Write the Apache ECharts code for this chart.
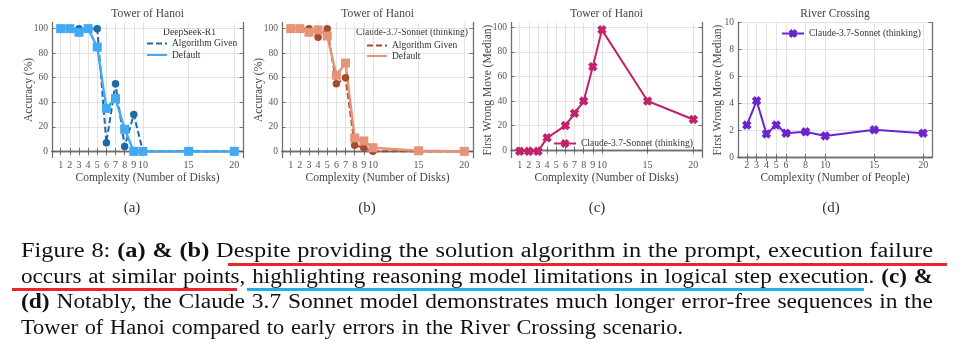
<!DOCTYPE html>
<html>
<head>
<meta charset="utf-8">
<script src="https://cdn.jsdelivr.net/npm/echarts@6/dist/echarts.min.js"></script>
<style>
html,body{margin:0;padding:0;background:#fff;}
#c{width:967px;height:355px;}
</style>
</head>
<body>
<div id="c"></div>
<script>
// ---------- data ----------
const disks = [1, 2, 3, 4, 5, 6, 7, 8, 9, 10, 15, 20];
const deepseekAlgo = [100, 100, 100, 100, 100, 7, 55, 4, 30, 0, 0, 0];
const deepseekDefault = [100, 100, 97, 100, 85, 35, 43, 18, 0, 0, 0, 0];
const claudeAlgo = [100, 100, 100, 93, 100, 55, 60, 5, 3, 0, 0, 0];
const claudeDefault = [100, 100, 97, 99, 94, 62, 72, 11, 8.5, 3, 0.5, 0];
const disksC = [1, 2, 3, 4, 6, 7, 8, 9, 10, 15, 20];
const firstWrongHanoi = [-1, -1, -1, 10, 20, 30, 40, 68, 98, 40, 25];
const people = [2, 3, 4, 5, 6, 8, 10, 15, 20];
const firstWrongRiver = [2.4, 4.2, 1.75, 2.4, 1.8, 1.9, 1.6, 2.05, 1.8];

const xTicksDisks = [1, 2, 3, 4, 5, 6, 7, 8, 9, 10, 15, 20];
const xTicksPeople = [2, 3, 4, 5, 6, 8, 10, 15, 20];
const yTicksPct = [0, 20, 40, 60, 80, 100];
const yTicksRiver = [0, 2, 4, 6, 8, 10];

const panelTitles = ['Tower of Hanoi', 'Tower of Hanoi', 'Tower of Hanoi', 'River Crossing'];
const subLabels = ['(a)', '(b)', '(c)', '(d)'];

// ---------- styling ----------
const SERIF = '"Liberation Serif", "DejaVu Serif", serif';
const FRAME = '#707070';
const GRIDC = '#dcdcdc';
const C_DS_ALGO = '#1c6aa6';
const C_DS_DEF = '#42aaf2';
const C_CL_ALGO = '#a84a30';
const C_CL_DEF = '#e79378';
const C_C = '#c2226b';
const C_D = '#6a26cc';
const XMARK = 'path://M0,3 L3,0 L5,2 L7,0 L10,3 L8,5 L10,7 L7,10 L5,8 L3,10 L0,7 L2,5 Z';

const grids = [
  {left: 52, top: 22.5, width: 191, height: 135},
  {left: 282, top: 22.5, width: 191, height: 135},
  {left: 511, top: 22.5, width: 191, height: 135},
  {left: 738, top: 22.5, width: 194, height: 135}
];
const subLabelX = [132, 367, 597, 831];

const xAxes = [], yAxes = [];
function addAxes(gi, xmin, xmax, xticks, ymin, ymax, yticks, xname, yname, yGap) {
  const tick = {show: true, inside: true, length: 3.5, lineStyle: {color: '#555', width: 0.8}};
  const line = {show: true, lineStyle: {color: FRAME, width: 1.3}};
  xAxes.push({
    type: 'value', gridIndex: gi, min: xmin, max: xmax, position: 'bottom',
    axisLine: line, axisTick: Object.assign({customValues: xticks}, tick),
    axisLabel: {customValues: xticks, margin: 3, fontFamily: SERIF, fontSize: 10, color: '#555'},
    splitLine: {show: true, lineStyle: {color: GRIDC, width: 0.8}},
    name: xname, nameLocation: 'middle', nameGap: 14, nameMoveOverlap: false,
    nameTextStyle: {fontFamily: SERIF, fontSize: 11.5, color: '#444'}
  });
  xAxes.push({
    type: 'value', gridIndex: gi, min: xmin, max: xmax, position: 'top',
    axisLine: line, axisTick: Object.assign({customValues: xticks}, tick),
    axisLabel: {show: false}, splitLine: {show: false}
  });
  yAxes.push({
    type: 'value', gridIndex: gi, min: ymin, max: ymax, position: 'left',
    axisLine: line, axisTick: Object.assign({customValues: yticks}, tick),
    axisLabel: {customValues: yticks, margin: 4, fontFamily: SERIF, fontSize: 9.5, color: '#555'},
    splitLine: {show: true, lineStyle: {color: GRIDC, width: 0.8}},
    name: yname, nameLocation: 'middle', nameGap: yGap, nameRotate: 90, nameMoveOverlap: false,
    nameTextStyle: {fontFamily: SERIF, fontSize: 11.5, color: '#444'}
  });
  yAxes.push({
    type: 'value', gridIndex: gi, min: ymin, max: ymax, position: 'right',
    axisLine: line, axisTick: Object.assign({customValues: yticks}, tick),
    axisLabel: {show: false}, splitLine: {show: false}
  });
}
addAxes(0, 0.05, 20.95, xTicksDisks, -5, 105, yTicksPct, 'Complexity (Number of Disks)', 'Accuracy (%)', 17);
addAxes(1, 0.05, 20.95, xTicksDisks, -5, 105, yTicksPct, 'Complexity (Number of Disks)', 'Accuracy (%)', 17);
addAxes(2, 0.05, 20.95, xTicksDisks, -6, 104, yTicksPct, 'Complexity (Number of Disks)', 'First Wrong Move (Median)', 17.2);
addAxes(3, 1.1, 20.9, xTicksPeople, 0, 10, yTicksRiver, 'Complexity (Number of People)', 'First Wrong Move (Median)', 14.2);

function pairs(xs, ys) { return xs.map((x, i) => [x, ys[i]]); }
function lineSeries(name, gi, xs, ys, color, dashed, symbol, size, width) {
  return {
    name: name, type: 'line', xAxisIndex: gi * 2, yAxisIndex: gi * 2,
    data: pairs(xs, ys), symbol: symbol, symbolSize: size, showSymbol: true,
    lineStyle: {color: color, width: width, type: dashed ? [6, 3] : 'solid'},
    itemStyle: {color: color}, animation: false, emphasis: {disabled: true}
  };
}

const series = [
  lineSeries('Algorithm Given', 0, disks, deepseekAlgo, C_DS_ALGO, true, 'circle', 7.5, 2),
  lineSeries('Default', 0, disks, deepseekDefault, C_DS_DEF, false, 'rect', 9, 2.4),
  lineSeries('Algorithm Given ', 1, disks, claudeAlgo, C_CL_ALGO, true, 'circle', 7.5, 2),
  lineSeries('Default ', 1, disks, claudeDefault, C_CL_DEF, false, 'rect', 9, 2.4),
  lineSeries('Claude-3.7-Sonnet (thinking)', 2, disksC, firstWrongHanoi, C_C, false, XMARK, 9.5, 2),
  lineSeries('Claude-3.7-Sonnet (thinking) ', 3, people, firstWrongRiver, C_D, false, XMARK, 9.5, 2)
];

const legTxt = {fontFamily: SERIF, fontSize: 9.5, color: '#333'};
const legends = [
  {data: ['Algorithm Given', 'Default'], left: 146, top: 38.5, orient: 'vertical', itemGap: 1.5,
   itemWidth: 20, itemHeight: 12, itemStyle: {opacity: 0}, textStyle: legTxt, selectedMode: false, padding: 0},
  {data: ['Algorithm Given ', 'Default '], left: 366, top: 40.5, orient: 'vertical', itemGap: 0.5,
   itemWidth: 20, itemHeight: 12, itemStyle: {opacity: 0}, textStyle: legTxt, selectedMode: false, padding: 0},
  {data: ['Claude-3.7-Sonnet (thinking)'], left: 553, top: 138.5, itemWidth: 22, itemHeight: 11,
   textStyle: legTxt, selectedMode: false, padding: 0},
  {data: ['Claude-3.7-Sonnet (thinking) '], left: 781, top: 28.5, itemWidth: 22, itemHeight: 11,
   textStyle: legTxt, selectedMode: false, padding: 0}
];

// ---------- graphic texts ----------
const graphics = [];
grids.forEach((g, i) => {
  graphics.push({type: 'text', x: g.left + g.width / 2, y: 13.5, silent: true,
    style: {text: panelTitles[i], fontFamily: SERIF, fontSize: 11.5, fill: '#444', textAlign: 'center', textVerticalAlign: 'middle'}});
  graphics.push({type: 'text', x: subLabelX[i], y: 208, silent: true,
    style: {text: subLabels[i], fontFamily: SERIF, fontSize: 15, fill: '#333', textAlign: 'center', textVerticalAlign: 'middle'}});
});
graphics.push({type: 'text', x: 189.5, y: 32, silent: true,
  style: {text: 'DeepSeek-R1', fontFamily: SERIF, fontSize: 9.5, fill: '#333', textAlign: 'center', textVerticalAlign: 'middle'}});
graphics.push({type: 'text', x: 412, y: 32, silent: true,
  style: {text: 'Claude-3.7-Sonnet (thinking)', fontFamily: SERIF, fontSize: 9.5, fill: '#333', textAlign: 'center', textVerticalAlign: 'middle'}});

// caption
const capLines = [
  [['Figure', 0], ['8:', 0], ['(a)', 1], ['&', 1], ['(b)', 1], ['Despite', 0], ['providing', 0], ['the', 0], ['solution', 0], ['algorithm', 0], ['in', 0], ['the', 0], ['prompt,', 0], ['execution', 0], ['failure', 0]],
  [['occurs', 0], ['at', 0], ['similar', 0], ['points,', 0], ['highlighting', 0], ['reasoning', 0], ['model', 0], ['limitations', 0], ['in', 0], ['logical', 0], ['step', 0], ['execution.', 0], ['(c)', 1], ['&', 1]],
  [['(d)', 1], ['Notably,', 0], ['the', 0], ['Claude', 0], ['3.7', 0], ['Sonnet', 0], ['model', 0], ['demonstrates', 0], ['much', 0], ['longer', 0], ['error-free', 0], ['sequences', 0], ['in', 0], ['the', 0]],
  [['Tower', 0], ['of', 0], ['Hanoi', 0], ['compared', 0], ['to', 0], ['early', 0], ['errors', 0], ['in', 0], ['the', 0], ['River', 0], ['Crossing', 0], ['scenario.', 0]]
];
const capSize = 20.5;
const capLeft = 21, capRight = 933, line4Right = 683;
const capBottom = [262.5, 288, 313.5, 339];
const normGap = 6.8;
const cv = document.createElement('canvas').getContext('2d');
function wWidth(t, b) { cv.font = (b ? 'bold ' : '') + capSize + 'px "Liberation Serif"'; return cv.measureText(t).width; }
capLines.forEach((ln, li) => {
  const nat = ln.map(w => wWidth(w[0], w[1]));
  const natTot = nat.reduce((a, b) => a + b, 0);
  const right = li < 3 ? capRight : line4Right;
  const sx = (right - capLeft - normGap * (ln.length - 1)) / natTot;
  let x = capLeft;
  ln.forEach((w, i) => {
    graphics.push({type: 'text', x: x, y: capBottom[li], scaleX: sx, silent: true,
      style: {text: w[0], fontFamily: '"Liberation Serif"', fontSize: capSize, fontWeight: w[1] ? 'bold' : 'normal',
        fill: '#111', textAlign: 'left', textVerticalAlign: 'bottom'}});
    x += nat[i] * sx + normGap;
  });
});
// hand-drawn style underlines
const ul = [
  [228, 264.5, 947, 264.5, '#e8262c'],
  [12, 289.5, 237, 289.5, '#e8262c'],
  [247, 289.5, 864, 289.5, '#1fb0ea']
];
ul.forEach(u => graphics.push({type: 'line', silent: true,
  shape: {x1: u[0], y1: u[1], x2: u[2], y2: u[3]}, style: {stroke: u[4], lineWidth: 3}}));

const chart = echarts.init(document.getElementById('c'), null, {renderer: 'canvas'});
chart.setOption({
  animation: false,
  backgroundColor: '#fff',
  grid: grids,
  xAxis: xAxes,
  yAxis: yAxes,
  legend: legends,
  series: series,
  graphic: graphics
});
</script>
</body>
</html>
